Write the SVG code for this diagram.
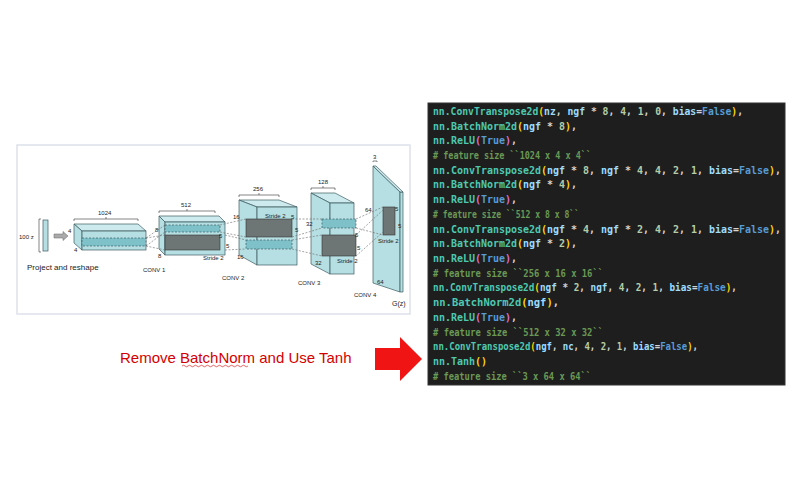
<svg xmlns="http://www.w3.org/2000/svg" width="800" height="493" viewBox="0 0 800 493">
<defs>
<style>
.lbl{font-family:"Liberation Sans",Arial,sans-serif;font-size:7px;fill:#222}
.sm{font-family:"Liberation Sans",Arial,sans-serif;font-size:6px;fill:#222}
.teal{fill:#a9d9de;stroke:#3e5b60;stroke-width:0.7;fill-opacity:0.85}
.tealt{fill:#c4e8ec;stroke:#3e5b60;stroke-width:0.7;fill-opacity:0.85}
.grey{fill:#6d7575;stroke:#333;stroke-width:0.6}
.dbar{fill:#7fc1c8;stroke:#2c4c50;stroke-width:0.6;stroke-dasharray:2 1.5}
.dl{stroke:#666;stroke-width:0.6;stroke-dasharray:2 1.5;fill:none}
.br{stroke:#333;stroke-width:0.6;fill:none}
.code{font-family:"DejaVu Sans Mono","Liberation Mono",monospace;font-size:11px;font-weight:bold}
.f{fill:#4ec9b0}.v{fill:#9cdcfe}.p{fill:#ffd700}.k{fill:#569cd6}.n{fill:#b5cea8}.w{fill:#d4d4d4}.c{fill:#6a9955}.q{fill:#da70d6}
</style>
</defs>
<rect width="800" height="493" fill="#fff"/>
<rect x="17" y="145" width="393" height="169" fill="#fff" stroke="#dde2ea" stroke-width="1.5"/>

<g id="input">
<rect x="43" y="220" width="5" height="31" class="teal"/>
<path d="M41 219 L39 219 L39 252 L41 252" class="br"/>
<text x="19" y="239" class="sm">100 z</text>
<path d="M54 234 H63 V231.5 L68 236 L63 240.5 V238 H54 Z" fill="#aaa" stroke="#666" stroke-width="0.5"/>
<text x="27" y="270" class="lbl" style="font-size:8px">Project and reshape</text>
</g>

<g id="block1">
<polygon points="74,224 138,224 146,231 82,231" class="tealt"/>
<polygon points="74,224 82,231 82,250 74,243" class="teal"/>
<rect x="82" y="231" width="64" height="19" class="teal"/>
<rect x="82" y="238" width="64" height="8" class="dbar"/>
<path d="M74 221 V219 H138 V221 M106 219 V217" class="br"/>
<text x="98" y="215" class="sm">1024</text>
<text x="68" y="233" class="sm">4</text>
<text x="74" y="252" class="sm">4</text>
</g>

<g id="block2">
<polygon points="159,216 219,216 225,222 165,222" class="tealt"/>
<polygon points="159,216 165,222 165,255 159,249" class="teal"/>
<rect x="165" y="222" width="60" height="33" class="teal"/>
<rect x="165" y="225" width="55" height="7" class="dbar"/>
<rect x="165" y="235" width="55" height="15" class="grey"/>
<path d="M159 213 V211 H215 V213 M187 211 V209" class="br"/>
<text x="181" y="207" class="sm">512</text>
<text x="155" y="232" class="sm">8</text>
<text x="158" y="258" class="sm">8</text>
<text x="219" y="238" class="sm">5</text>
<text x="226" y="248" class="sm">5</text>
<text x="203" y="260" class="sm">Stride 2</text>
<text x="143" y="272" class="sm">CONV 1</text>
</g>

<g id="block3">
<polygon points="239,200 279,200 297,207 257,207" class="tealt"/>
<polygon points="239,200 257,207 257,265 239,255" class="teal"/>
<rect x="257" y="207" width="40" height="58" class="teal"/>
<rect x="246" y="219" width="46" height="18" class="grey"/>
<rect x="246" y="240" width="46" height="9" class="dbar"/>
<path d="M239 197 V195 H279 V197 M259 195 V193" class="br"/>
<text x="253" y="191" class="sm">256</text>
<text x="233" y="219" class="sm">16</text>
<text x="237" y="259" class="sm">16</text>
<text x="265" y="218" class="sm">Stride 2</text>
<text x="291" y="219" class="sm">5</text>
<text x="295" y="232" class="sm">5</text>
<text x="222" y="280" class="sm">CONV 2</text>
</g>

<g id="block4">
<polygon points="311,193 335,193 354,203 330,203" class="tealt"/>
<polygon points="311,193 330,203 330,274 311,264" class="teal"/>
<rect x="330" y="203" width="24" height="71" class="teal"/>
<rect x="322" y="219" width="34" height="9" class="dbar"/>
<rect x="322" y="235" width="34" height="21" class="grey"/>
<path d="M311 190 V188 H335 V190 M323 188 V186" class="br"/>
<text x="318" y="184" class="sm">128</text>
<text x="306" y="226" class="sm">32</text>
<text x="315" y="265" class="sm">32</text>
<text x="355" y="237" class="sm">5</text>
<text x="357" y="250" class="sm">5</text>
<text x="337" y="263" class="sm">Stride 2</text>
<text x="298" y="285" class="sm">CONV 3</text>
</g>

<g id="output">
<polygon points="373,166 400,192 400,292 373,283" class="teal"/>
<polygon points="400,192 403,192 403,292 400,292" class="teal"/>
<polygon points="373,166 376,166 403,192 400,192" class="tealt"/>
<rect x="383" y="207" width="12" height="28" class="grey"/>
<path d="M373 162 V161 H377 V162" class="br"/>
<text x="373" y="159" class="sm">3</text>
<text x="365" y="212" class="sm">64</text>
<text x="395" y="211" class="sm">5</text>
<text x="398" y="228" class="sm">5</text>
<text x="378" y="243" class="sm">Stride 2</text>
<text x="377" y="284" class="sm">64</text>
<text x="354" y="297" class="sm">CONV 4</text>
<text x="392" y="306" class="lbl">G(z)</text>
</g>

<g id="connectors">
<path d="M146 238 L165 225 M146 246 L165 232 M146 238 L165 235 M146 246 L165 250" class="dl"/>
<path d="M220 225 L246 219 M220 232 L246 237 M225 235 L246 240 M225 250 L246 249" class="dl"/>
<path d="M292 240 L322 235 M292 249 L322 256 M292 219 L322 219 M292 237 L322 228" class="dl"/>
<path d="M356 219 L383 207 M356 228 L383 235 M356 235 L383 210 M356 256 L383 232" class="dl"/>
<path d="M375 348 H400 V337 L422 359 L400 381 V370 H375 Z" fill="#f01414"/>
</g>

<g id="note">
<text x="120" y="363" font-family="'Liberation Sans',Arial,sans-serif" font-size="15" fill="#d40000">Remove BatchNorm and Use Tanh</text>
<path d="M182 366 q1.5 -1.5 3 0 t3 0 t3 0 t3 0 t3 0 t3 0 t3 0 t3 0 t3 0 t3 0 t3 0 t3 0 t3 0 t3 0 t3 0 t3 0 t3 0 t3 0 t3 0 t3 0 t3 0 t3 0" stroke="#d40000" stroke-width="0.6" fill="none"/>
</g>

<g id="code">
<rect x="428" y="103" width="357" height="282" fill="#1e1e1e"/>
<rect x="428" y="103" width="357" height="282" fill="none" stroke="#333"/>
<text x="433" y="115" class="code" textLength="310" lengthAdjust="spacingAndGlyphs"><tspan class="f">nn.ConvTranspose2d</tspan><tspan class="p">(</tspan><tspan class="v">nz</tspan><tspan class="w">, </tspan><tspan class="v">ngf</tspan><tspan class="w"> * </tspan><tspan class="n">8</tspan><tspan class="w">, </tspan><tspan class="n">4</tspan><tspan class="w">, </tspan><tspan class="n">1</tspan><tspan class="w">, </tspan><tspan class="n">0</tspan><tspan class="w">, </tspan><tspan class="v">bias</tspan><tspan class="w">=</tspan><tspan class="k">False</tspan><tspan class="p">)</tspan><tspan class="w">,</tspan></text>
<text x="433" y="130" class="code" textLength="144" lengthAdjust="spacingAndGlyphs"><tspan class="f">nn.BatchNorm2d</tspan><tspan class="p">(</tspan><tspan class="v">ngf</tspan><tspan class="w"> * </tspan><tspan class="n">8</tspan><tspan class="p">)</tspan><tspan class="w">,</tspan></text>
<text x="433" y="144" class="code" textLength="84" lengthAdjust="spacingAndGlyphs"><tspan class="f">nn.ReLU</tspan><tspan class="q">(</tspan><tspan class="k">True</tspan><tspan class="q">)</tspan><tspan class="w">,</tspan></text>
<text x="433" y="159" class="code c" textLength="158" lengthAdjust="spacingAndGlyphs"># feature size ``1024 x 4 x 4``</text>
<text x="433" y="174" class="code" textLength="348" lengthAdjust="spacingAndGlyphs"><tspan class="f">nn.ConvTranspose2d</tspan><tspan class="p">(</tspan><tspan class="v">ngf</tspan><tspan class="w"> * </tspan><tspan class="n">8</tspan><tspan class="w">, </tspan><tspan class="v">ngf</tspan><tspan class="w"> * </tspan><tspan class="n">4</tspan><tspan class="w">, </tspan><tspan class="n">4</tspan><tspan class="w">, </tspan><tspan class="n">2</tspan><tspan class="w">, </tspan><tspan class="n">1</tspan><tspan class="w">, </tspan><tspan class="v">bias</tspan><tspan class="w">=</tspan><tspan class="k">False</tspan><tspan class="p">)</tspan><tspan class="w">,</tspan></text>
<text x="433" y="188" class="code" textLength="144" lengthAdjust="spacingAndGlyphs"><tspan class="f">nn.BatchNorm2d</tspan><tspan class="p">(</tspan><tspan class="v">ngf</tspan><tspan class="w"> * </tspan><tspan class="n">4</tspan><tspan class="p">)</tspan><tspan class="w">,</tspan></text>
<text x="433" y="203" class="code" textLength="84" lengthAdjust="spacingAndGlyphs"><tspan class="f">nn.ReLU</tspan><tspan class="q">(</tspan><tspan class="k">True</tspan><tspan class="q">)</tspan><tspan class="w">,</tspan></text>
<text x="433" y="218" class="code c" textLength="146" lengthAdjust="spacingAndGlyphs"># feature size ``512 x 8 x 8``</text>
<text x="433" y="233" class="code" textLength="348" lengthAdjust="spacingAndGlyphs"><tspan class="f">nn.ConvTranspose2d</tspan><tspan class="p">(</tspan><tspan class="v">ngf</tspan><tspan class="w"> * </tspan><tspan class="n">4</tspan><tspan class="w">, </tspan><tspan class="v">ngf</tspan><tspan class="w"> * </tspan><tspan class="n">2</tspan><tspan class="w">, </tspan><tspan class="n">4</tspan><tspan class="w">, </tspan><tspan class="n">2</tspan><tspan class="w">, </tspan><tspan class="n">1</tspan><tspan class="w">, </tspan><tspan class="v">bias</tspan><tspan class="w">=</tspan><tspan class="k">False</tspan><tspan class="p">)</tspan><tspan class="w">,</tspan></text>
<text x="433" y="247" class="code" textLength="144" lengthAdjust="spacingAndGlyphs"><tspan class="f">nn.BatchNorm2d</tspan><tspan class="p">(</tspan><tspan class="v">ngf</tspan><tspan class="w"> * </tspan><tspan class="n">2</tspan><tspan class="p">)</tspan><tspan class="w">,</tspan></text>
<text x="433" y="262" class="code" textLength="84" lengthAdjust="spacingAndGlyphs"><tspan class="f">nn.ReLU</tspan><tspan class="q">(</tspan><tspan class="k">True</tspan><tspan class="q">)</tspan><tspan class="w">,</tspan></text>
<text x="433" y="277" class="code c" textLength="170" lengthAdjust="spacingAndGlyphs"># feature size ``256 x 16 x 16``</text>
<text x="433" y="291" class="code" textLength="304" lengthAdjust="spacingAndGlyphs"><tspan class="f">nn.ConvTranspose2d</tspan><tspan class="p">(</tspan><tspan class="v">ngf</tspan><tspan class="w"> * </tspan><tspan class="n">2</tspan><tspan class="w">, </tspan><tspan class="v">ngf</tspan><tspan class="w">, </tspan><tspan class="n">4</tspan><tspan class="w">, </tspan><tspan class="n">2</tspan><tspan class="w">, </tspan><tspan class="n">1</tspan><tspan class="w">, </tspan><tspan class="v">bias</tspan><tspan class="w">=</tspan><tspan class="k">False</tspan><tspan class="p">)</tspan><tspan class="w">,</tspan></text>
<text x="433" y="306" class="code" textLength="126" lengthAdjust="spacingAndGlyphs"><tspan class="f">nn.BatchNorm2d</tspan><tspan class="p">(</tspan><tspan class="v">ngf</tspan><tspan class="p">)</tspan><tspan class="w">,</tspan></text>
<text x="433" y="321" class="code" textLength="84" lengthAdjust="spacingAndGlyphs"><tspan class="f">nn.ReLU</tspan><tspan class="q">(</tspan><tspan class="k">True</tspan><tspan class="q">)</tspan><tspan class="w">,</tspan></text>
<text x="433" y="336" class="code c" textLength="170" lengthAdjust="spacingAndGlyphs"># feature size ``512 x 32 x 32``</text>
<text x="433" y="350" class="code" textLength="265" lengthAdjust="spacingAndGlyphs"><tspan class="f">nn.ConvTranspose2d</tspan><tspan class="p">(</tspan><tspan class="v">ngf</tspan><tspan class="w">, </tspan><tspan class="v">nc</tspan><tspan class="w">, </tspan><tspan class="n">4</tspan><tspan class="w">, </tspan><tspan class="n">2</tspan><tspan class="w">, </tspan><tspan class="n">1</tspan><tspan class="w">, </tspan><tspan class="v">bias</tspan><tspan class="w">=</tspan><tspan class="k">False</tspan><tspan class="p">)</tspan><tspan class="w">,</tspan></text>
<text x="433" y="365" class="code" textLength="54" lengthAdjust="spacingAndGlyphs"><tspan class="f">nn.Tanh</tspan><tspan class="p">()</tspan></text>
<text x="433" y="380" class="code c" textLength="158" lengthAdjust="spacingAndGlyphs"># feature size ``3 x 64 x 64``</text>
</g>
</svg>
